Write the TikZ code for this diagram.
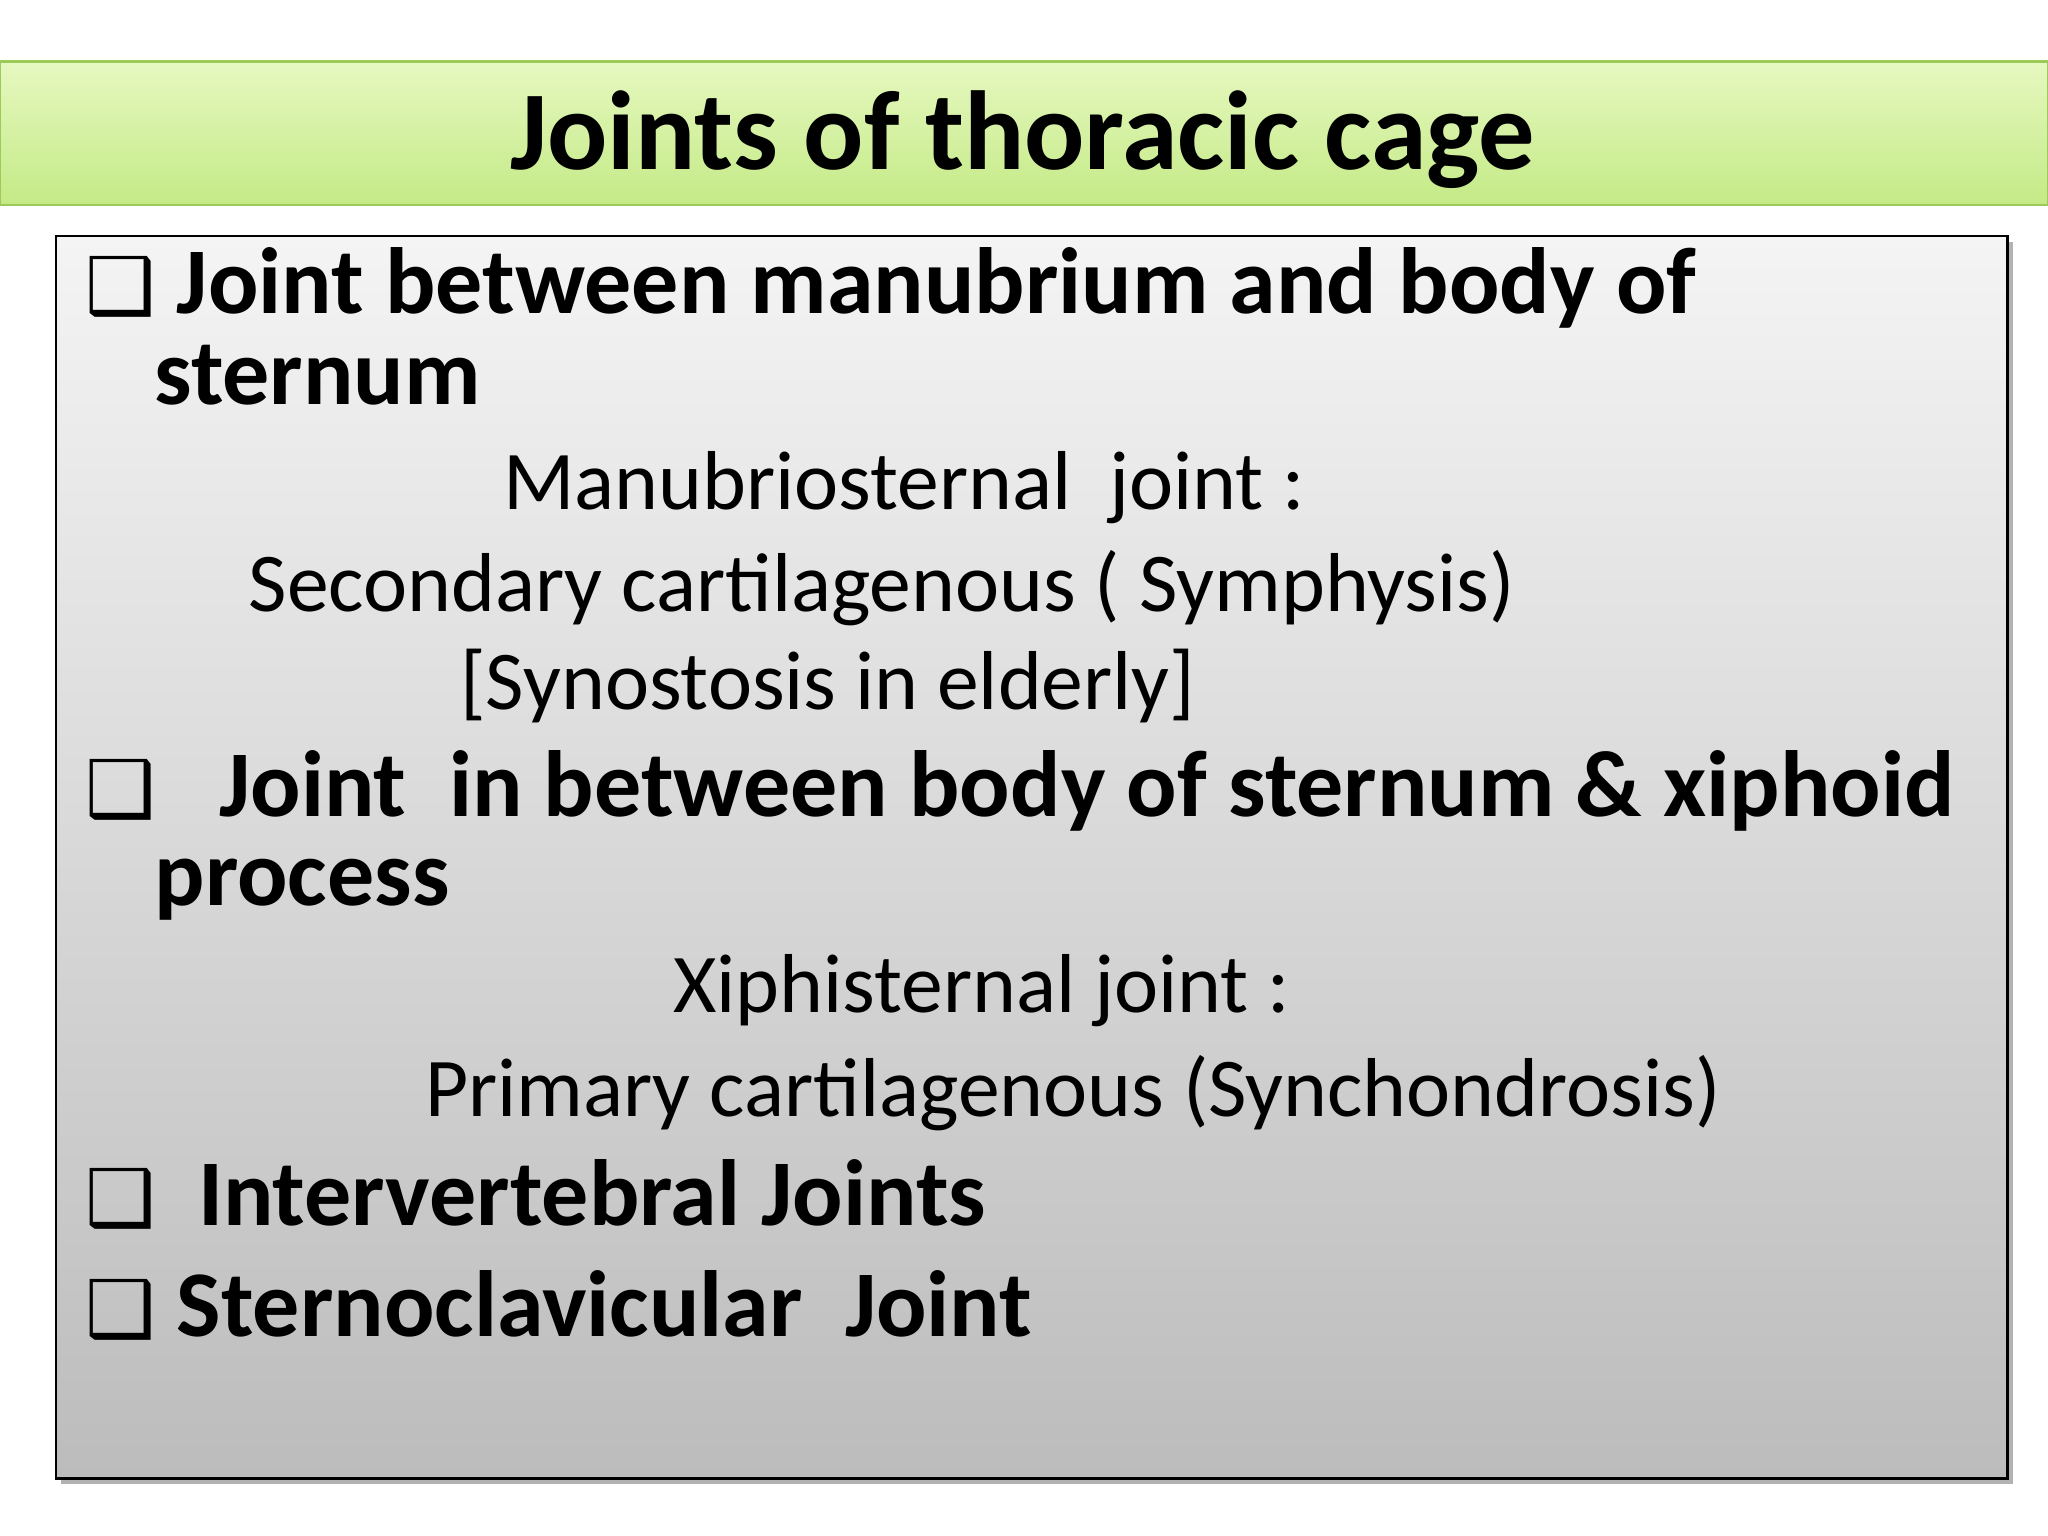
\documentclass[tikz,border=0pt]{standalone}
\usepackage{fontspec}
\setmainfont{Carlito}
\newfontfamily\djfont{DejaVu Sans}
\definecolor{gtop}{HTML}{E6F8C0}
\definecolor{gbot}{HTML}{C4EA86}
\definecolor{gbord}{HTML}{9CCB5A}
\definecolor{btop}{HTML}{F4F4F4}
\definecolor{bbot}{HTML}{BCBCBC}
\tikzset{
 bl/.style={anchor=base west,inner sep=0pt,font=\fontsize{36}{40}\selectfont\bfseries},
 nl/.style={anchor=base west,inner sep=0pt,font=\fontsize{32}{36}\selectfont},
}
\newcommand\qb{{\djfont\fontsize{30}{30}\selectfont ❑}}
\begin{document}
\begin{tikzpicture}[x=0.5pt,y=-0.5pt]
\useasboundingbox[fill=white] (0,0) rectangle (1568,1176);
\shade[top color=gtop,bottom color=gbot,draw=gbord,line width=1pt] (0,47) rectangle (1568,157);
\node[anchor=base,inner sep=0pt,font=\fontsize{43}{48}\selectfont\bfseries] (title) at (783,130) {Joints of thoracic cage};
\fill[gray!60] (47,185) rectangle (1541,1136);
\shade[top color=btop,bottom color=bbot,draw=black,line width=0.8pt] (43,181) rectangle (1537,1132);
\node[bl] (l1) at (65,240) {\qb\ Joint between manubrium and body of};
\node[bl] (l2) at (118,310) {sternum};
\node[nl] (l3) at (385,390) {Manubriosternal\ \ joint :};
\node[nl] (l4) at (190,468) {Secondary cartilagenous ( Symphysis)};
\node[nl] (l5) at (352,543) {[Synostosis in elderly]};
\node[bl] (l6) at (65,625) {\qb\ \ \ Joint\ \ in between body of sternum \& xiphoid};
\node[bl] (l7) at (118,693) {process};
\node[nl] (l8) at (515,775) {Xiphisternal joint :};
\node[nl] (l9) at (325,855) {Primary cartilagenous (Synchondrosis)};
\node[bl] (l10) at (65,938) {\qb\ \ Intervertebral Joints};
\node[bl] (l11) at (65,1023) {\qb\ Sternoclavicular\ \ Joint};
\end{tikzpicture}
\end{document}
